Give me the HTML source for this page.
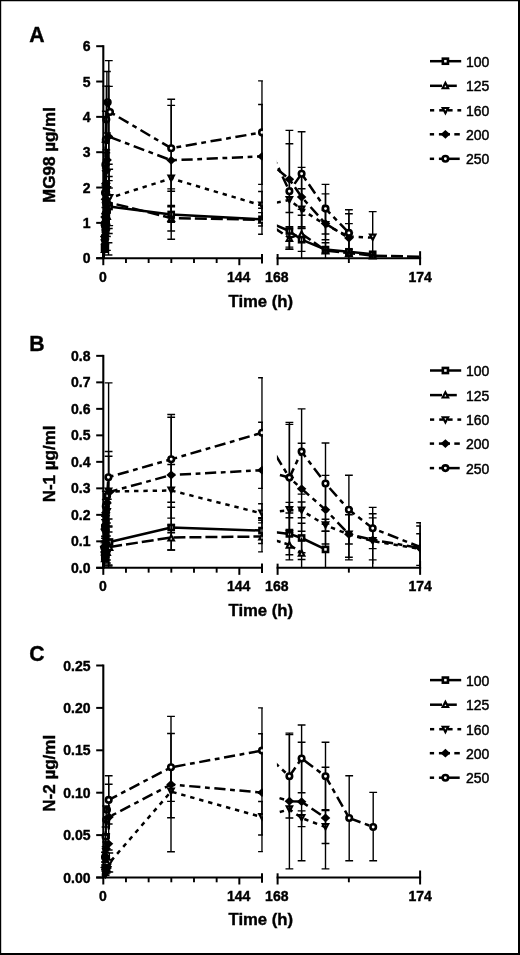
<!DOCTYPE html>
<html lang="en"><head><meta charset="utf-8"><title>Figure: plasma concentration versus time</title>
<style>html,body{margin:0;padding:0;background:#fff}body{width:520px;height:955px;overflow:hidden}svg{display:block}text{font-family:'Liberation Sans', sans-serif;fill:#000}</style></head><body>
<svg width="520" height="955" viewBox="0 0 520 955">
<rect x="0" y="0" width="520" height="955" fill="#fff"/>
<defs>
<clipPath id="clip0"><rect x="90" y="20" width="172.9" height="300"/><rect x="276.9" y="20" width="144.1" height="300"/></clipPath>
<clipPath id="clip1"><rect x="90" y="329.5" width="172.9" height="300"/><rect x="276.9" y="329.5" width="144.1" height="300"/></clipPath>
<clipPath id="clip2"><rect x="90" y="639.2" width="172.9" height="300"/><rect x="276.9" y="639.2" width="144.1" height="300"/></clipPath>
</defs>
<g id="panel-A">
<text x="29.3" y="41.6" font-size="21.2" font-weight="bold" text-anchor="start" stroke="#000" stroke-width="0.4">A</text>
<text transform="translate(55 155) rotate(-90)" font-size="17" font-weight="bold" text-anchor="middle" stroke="#000" stroke-width="0.45">MG98 µg/ml</text>
<g clip-path="url(#clip0)">
<line x1="105.4" y1="222.34" x2="105.4" y2="236.22" stroke="#000" stroke-width="1.4"/>
<line x1="101.5" y1="222.34" x2="109.3" y2="222.34" stroke="#000" stroke-width="1.4"/>
<line x1="101.5" y1="236.22" x2="109.3" y2="236.22" stroke="#000" stroke-width="1.4"/>
<line x1="105.8" y1="212.78" x2="105.8" y2="230.36" stroke="#000" stroke-width="1.4"/>
<line x1="101.9" y1="212.78" x2="109.7" y2="212.78" stroke="#000" stroke-width="1.4"/>
<line x1="101.9" y1="230.36" x2="109.7" y2="230.36" stroke="#000" stroke-width="1.4"/>
<line x1="106.3" y1="205.01" x2="106.3" y2="225.6" stroke="#000" stroke-width="1.4"/>
<line x1="102.4" y1="205.01" x2="110.2" y2="205.01" stroke="#000" stroke-width="1.4"/>
<line x1="102.4" y1="225.6" x2="110.2" y2="225.6" stroke="#000" stroke-width="1.4"/>
<line x1="108.8" y1="180.6" x2="108.8" y2="233.5" stroke="#000" stroke-width="1.4"/>
<line x1="104.9" y1="180.6" x2="112.7" y2="180.6" stroke="#000" stroke-width="1.4"/>
<line x1="104.9" y1="233.5" x2="112.7" y2="233.5" stroke="#000" stroke-width="1.4"/>
<line x1="106.9" y1="236.5" x2="106.9" y2="250.4" stroke="#000" stroke-width="1.4"/>
<line x1="103" y1="236.5" x2="110.8" y2="236.5" stroke="#000" stroke-width="1.4"/>
<line x1="103" y1="250.4" x2="110.8" y2="250.4" stroke="#000" stroke-width="1.4"/>
<line x1="171.2" y1="206.7" x2="171.2" y2="222.3" stroke="#000" stroke-width="1.4"/>
<line x1="167.3" y1="206.7" x2="175.1" y2="206.7" stroke="#000" stroke-width="1.4"/>
<line x1="167.3" y1="222.3" x2="175.1" y2="222.3" stroke="#000" stroke-width="1.4"/>
<line x1="262" y1="212.6" x2="262" y2="226" stroke="#000" stroke-width="1.4"/>
<line x1="258.1" y1="212.6" x2="265.9" y2="212.6" stroke="#000" stroke-width="1.4"/>
<line x1="258.1" y1="226" x2="265.9" y2="226" stroke="#000" stroke-width="1.4"/>
<line x1="289.4" y1="228.9" x2="289.4" y2="247.1" stroke="#000" stroke-width="1.4"/>
<line x1="285.5" y1="228.9" x2="293.3" y2="228.9" stroke="#000" stroke-width="1.4"/>
<line x1="285.5" y1="247.1" x2="293.3" y2="247.1" stroke="#000" stroke-width="1.4"/>
<line x1="301.6" y1="228" x2="301.6" y2="251.4" stroke="#000" stroke-width="1.4"/>
<line x1="297.7" y1="228" x2="305.5" y2="228" stroke="#000" stroke-width="1.4"/>
<line x1="297.7" y1="251.4" x2="305.5" y2="251.4" stroke="#000" stroke-width="1.4"/>
<line x1="325.5" y1="242.7" x2="325.5" y2="258" stroke="#000" stroke-width="1.4"/>
<line x1="321.6" y1="242.7" x2="329.4" y2="242.7" stroke="#000" stroke-width="1.4"/>
<path d="M103.3 258.4L104.6 247.6L105 237.96L105.4 229.28L105.8 221.57L106.3 215.3L107.1 210L109 206.5L171.2 214.5L262 219.3L289.4 231L301.6 239.7L325.5 249.6L348.9 251.8L372.7 254.3" fill="none" stroke="#000" stroke-width="2.5" stroke-linejoin="round"/>
<rect x="102.05" y="245.05" width="5.1" height="5.1" fill="none" stroke="#000" stroke-width="2.6"/>
<rect x="102.45" y="235.41" width="5.1" height="5.1" fill="none" stroke="#000" stroke-width="2.6"/>
<rect x="102.85" y="226.73" width="5.1" height="5.1" fill="none" stroke="#000" stroke-width="2.6"/>
<rect x="103.25" y="219.02" width="5.1" height="5.1" fill="none" stroke="#000" stroke-width="2.6"/>
<rect x="103.75" y="212.75" width="5.1" height="5.1" fill="none" stroke="#000" stroke-width="2.6"/>
<rect x="104.55" y="207.45" width="5.1" height="5.1" fill="none" stroke="#000" stroke-width="2.6"/>
<rect x="106.45" y="203.95" width="5.1" height="5.1" fill="#fff" stroke="#000" stroke-width="2.6"/>
<rect x="168.65" y="211.95" width="5.1" height="5.1" fill="#fff" stroke="#000" stroke-width="2.6"/>
<rect x="259.45" y="216.75" width="5.1" height="5.1" fill="#fff" stroke="#000" stroke-width="2.6"/>
<rect x="286.85" y="228.45" width="5.1" height="5.1" fill="#fff" stroke="#000" stroke-width="2.6"/>
<rect x="299.05" y="237.15" width="5.1" height="5.1" fill="#fff" stroke="#000" stroke-width="2.6"/>
<rect x="322.95" y="247.05" width="5.1" height="5.1" fill="#fff" stroke="#000" stroke-width="2.6"/>
<rect x="346.35" y="249.25" width="5.1" height="5.1" fill="#fff" stroke="#000" stroke-width="2.6"/>
<rect x="370.15" y="251.75" width="5.1" height="5.1" fill="#fff" stroke="#000" stroke-width="2.6"/>
<line x1="105.4" y1="226.8" x2="105.4" y2="238.96" stroke="#000" stroke-width="1.4"/>
<line x1="101.5" y1="226.8" x2="109.3" y2="226.8" stroke="#000" stroke-width="1.4"/>
<line x1="101.5" y1="238.96" x2="109.3" y2="238.96" stroke="#000" stroke-width="1.4"/>
<line x1="105.8" y1="218.43" x2="105.8" y2="233.83" stroke="#000" stroke-width="1.4"/>
<line x1="101.9" y1="218.43" x2="109.7" y2="218.43" stroke="#000" stroke-width="1.4"/>
<line x1="101.9" y1="233.83" x2="109.7" y2="233.83" stroke="#000" stroke-width="1.4"/>
<line x1="106.3" y1="211.63" x2="106.3" y2="229.66" stroke="#000" stroke-width="1.4"/>
<line x1="102.4" y1="211.63" x2="110.2" y2="211.63" stroke="#000" stroke-width="1.4"/>
<line x1="102.4" y1="229.66" x2="110.2" y2="229.66" stroke="#000" stroke-width="1.4"/>
<line x1="108.8" y1="176.5" x2="108.8" y2="228.5" stroke="#000" stroke-width="1.4"/>
<line x1="104.9" y1="176.5" x2="112.7" y2="176.5" stroke="#000" stroke-width="1.4"/>
<line x1="104.9" y1="228.5" x2="112.7" y2="228.5" stroke="#000" stroke-width="1.4"/>
<line x1="108.5" y1="242.7" x2="108.5" y2="255" stroke="#000" stroke-width="1.4"/>
<line x1="104.6" y1="242.7" x2="112.4" y2="242.7" stroke="#000" stroke-width="1.4"/>
<line x1="104.6" y1="255" x2="112.4" y2="255" stroke="#000" stroke-width="1.4"/>
<line x1="171.2" y1="205.5" x2="171.2" y2="231" stroke="#000" stroke-width="1.4"/>
<line x1="167.3" y1="205.5" x2="175.1" y2="205.5" stroke="#000" stroke-width="1.4"/>
<line x1="167.3" y1="231" x2="175.1" y2="231" stroke="#000" stroke-width="1.4"/>
<line x1="262" y1="205.3" x2="262" y2="234.3" stroke="#000" stroke-width="1.4"/>
<line x1="258.1" y1="205.3" x2="265.9" y2="205.3" stroke="#000" stroke-width="1.4"/>
<line x1="258.1" y1="234.3" x2="265.9" y2="234.3" stroke="#000" stroke-width="1.4"/>
<line x1="289.4" y1="226.7" x2="289.4" y2="249.3" stroke="#000" stroke-width="1.4"/>
<line x1="285.5" y1="226.7" x2="293.3" y2="226.7" stroke="#000" stroke-width="1.4"/>
<line x1="285.5" y1="249.3" x2="293.3" y2="249.3" stroke="#000" stroke-width="1.4"/>
<line x1="301.6" y1="209.4" x2="301.6" y2="258" stroke="#000" stroke-width="1.4"/>
<line x1="297.7" y1="209.4" x2="305.5" y2="209.4" stroke="#000" stroke-width="1.4"/>
<path d="M103.3 258.4L104.6 248.92L105 240.48L105.4 232.88L105.8 226.13L106.3 220.64L107.1 216L109 202.5L171.2 218L262 219.8L289.4 238L301.6 233.7L325.5 250.5L348.9 253L372.7 255.6L420.1 256.7" fill="none" stroke="#000" stroke-width="2.5" stroke-linejoin="round" stroke-dasharray="12 4"/>
<path d="M104.6 244.32L109.1 252.92L100.1 252.92Z" fill="#000"/>
<path d="M105 235.88L109.5 244.48L100.5 244.48Z" fill="#000"/>
<path d="M105.4 228.28L109.9 236.88L100.9 236.88Z" fill="#000"/>
<path d="M105.8 221.53L110.3 230.13L101.3 230.13Z" fill="#000"/>
<path d="M106.3 216.04L110.8 224.64L101.8 224.64Z" fill="#000"/>
<path d="M107.1 211.4L111.6 220L102.6 220Z" fill="#000"/>
<path d="M109 197.9L113.5 206.5L104.5 206.5Z" fill="#000"/><path d="M109 202.54L109.99 204.43L108.01 204.43Z" fill="#fff"/>
<path d="M171.2 213.4L175.7 222L166.7 222Z" fill="#000"/><path d="M171.2 218.04L172.19 219.93L170.21 219.93Z" fill="#fff"/>
<path d="M262 215.2L266.5 223.8L257.5 223.8Z" fill="#000"/><path d="M262 219.84L262.99 221.73L261.01 221.73Z" fill="#fff"/>
<path d="M289.4 233.4L293.9 242L284.9 242Z" fill="#000"/><path d="M289.4 238.04L290.39 239.93L288.41 239.93Z" fill="#fff"/>
<path d="M301.6 229.1L306.1 237.7L297.1 237.7Z" fill="#000"/><path d="M301.6 233.74L302.59 235.63L300.61 235.63Z" fill="#fff"/>
<path d="M325.5 245.9L330 254.5L321 254.5Z" fill="#000"/><path d="M325.5 250.54L326.49 252.43L324.51 252.43Z" fill="#fff"/>
<path d="M348.9 248.4L353.4 257L344.4 257Z" fill="#000"/><path d="M348.9 253.04L349.89 254.93L347.91 254.93Z" fill="#fff"/>
<path d="M372.7 251L377.2 259.6L368.2 259.6Z" fill="#000"/><path d="M372.7 255.64L373.69 257.53L371.71 257.53Z" fill="#fff"/>
<line x1="105.4" y1="207.46" x2="105.4" y2="227.1" stroke="#000" stroke-width="1.4"/>
<line x1="101.5" y1="207.46" x2="109.3" y2="207.46" stroke="#000" stroke-width="1.4"/>
<line x1="101.5" y1="227.1" x2="109.3" y2="227.1" stroke="#000" stroke-width="1.4"/>
<line x1="105.8" y1="193.93" x2="105.8" y2="218.81" stroke="#000" stroke-width="1.4"/>
<line x1="101.9" y1="193.93" x2="109.7" y2="193.93" stroke="#000" stroke-width="1.4"/>
<line x1="101.9" y1="218.81" x2="109.7" y2="218.81" stroke="#000" stroke-width="1.4"/>
<line x1="106.3" y1="182.93" x2="106.3" y2="212.07" stroke="#000" stroke-width="1.4"/>
<line x1="102.4" y1="182.93" x2="110.2" y2="182.93" stroke="#000" stroke-width="1.4"/>
<line x1="102.4" y1="212.07" x2="110.2" y2="212.07" stroke="#000" stroke-width="1.4"/>
<line x1="109.2" y1="169.2" x2="109.2" y2="225.6" stroke="#000" stroke-width="1.4"/>
<line x1="105.3" y1="169.2" x2="113.1" y2="169.2" stroke="#000" stroke-width="1.4"/>
<line x1="105.3" y1="225.6" x2="113.1" y2="225.6" stroke="#000" stroke-width="1.4"/>
<line x1="171.2" y1="178.4" x2="171.2" y2="239.3" stroke="#000" stroke-width="1.4"/>
<line x1="167.3" y1="188.9" x2="175.1" y2="188.9" stroke="#000" stroke-width="1.4"/>
<line x1="167.3" y1="239.3" x2="175.1" y2="239.3" stroke="#000" stroke-width="1.4"/>
<line x1="262" y1="191.5" x2="262" y2="219.5" stroke="#000" stroke-width="1.4"/>
<line x1="258.1" y1="191.5" x2="265.9" y2="191.5" stroke="#000" stroke-width="1.4"/>
<line x1="258.1" y1="219.5" x2="265.9" y2="219.5" stroke="#000" stroke-width="1.4"/>
<line x1="301.6" y1="188.8" x2="301.6" y2="228.5" stroke="#000" stroke-width="1.4"/>
<line x1="297.7" y1="188.8" x2="305.5" y2="188.8" stroke="#000" stroke-width="1.4"/>
<line x1="297.7" y1="228.5" x2="305.5" y2="228.5" stroke="#000" stroke-width="1.4"/>
<line x1="325.5" y1="210.2" x2="325.5" y2="239.8" stroke="#000" stroke-width="1.4"/>
<line x1="321.6" y1="210.2" x2="329.4" y2="210.2" stroke="#000" stroke-width="1.4"/>
<line x1="321.6" y1="239.8" x2="329.4" y2="239.8" stroke="#000" stroke-width="1.4"/>
<line x1="348.9" y1="223.6" x2="348.9" y2="249.4" stroke="#000" stroke-width="1.4"/>
<line x1="345" y1="223.6" x2="352.8" y2="223.6" stroke="#000" stroke-width="1.4"/>
<line x1="345" y1="249.4" x2="352.8" y2="249.4" stroke="#000" stroke-width="1.4"/>
<line x1="372.7" y1="211.6" x2="372.7" y2="258" stroke="#000" stroke-width="1.4"/>
<line x1="368.8" y1="211.6" x2="376.6" y2="211.6" stroke="#000" stroke-width="1.4"/>
<path d="M103.3 258.4L104.6 243.2L105 229.56L105.4 217.28L105.8 206.37L106.3 197.5L107.1 190L109.5 198L171.2 178.4L262 205.5L289.4 200L301.6 209.4L325.5 225L348.9 236.5L372.7 237.6" fill="none" stroke="#000" stroke-width="2.5" stroke-linejoin="round" stroke-dasharray="4.4 4.9"/>
<path d="M104.6 247.8L109.1 239.2L100.1 239.2Z" fill="#000"/>
<path d="M105 234.16L109.5 225.56L100.5 225.56Z" fill="#000"/>
<path d="M105.4 221.88L109.9 213.28L100.9 213.28Z" fill="#000"/>
<path d="M105.8 210.97L110.3 202.37L101.3 202.37Z" fill="#000"/>
<path d="M106.3 202.1L110.8 193.5L101.8 193.5Z" fill="#000"/>
<path d="M107.1 194.6L111.6 186L102.6 186Z" fill="#000"/>
<path d="M109.5 202.6L114 194L105 194Z" fill="#000"/><path d="M109.5 197.96L110.49 196.07L108.51 196.07Z" fill="#fff"/>
<path d="M171.2 183L175.7 174.4L166.7 174.4Z" fill="#000"/><path d="M171.2 178.36L172.19 176.47L170.21 176.47Z" fill="#fff"/>
<path d="M262 210.1L266.5 201.5L257.5 201.5Z" fill="#000"/><path d="M262 205.46L262.99 203.57L261.01 203.57Z" fill="#fff"/>
<path d="M289.4 204.6L293.9 196L284.9 196Z" fill="#000"/><path d="M289.4 199.96L290.39 198.07L288.41 198.07Z" fill="#fff"/>
<path d="M301.6 214L306.1 205.4L297.1 205.4Z" fill="#000"/><path d="M301.6 209.36L302.59 207.47L300.61 207.47Z" fill="#fff"/>
<path d="M325.5 229.6L330 221L321 221Z" fill="#000"/><path d="M325.5 224.96L326.49 223.07L324.51 223.07Z" fill="#fff"/>
<path d="M348.9 241.1L353.4 232.5L344.4 232.5Z" fill="#000"/><path d="M348.9 236.46L349.89 234.57L347.91 234.57Z" fill="#fff"/>
<path d="M372.7 242.2L377.2 233.6L368.2 233.6Z" fill="#000"/><path d="M372.7 237.56L373.69 235.67L371.71 235.67Z" fill="#fff"/>
<line x1="105.4" y1="185.14" x2="105.4" y2="213.42" stroke="#000" stroke-width="1.4"/>
<line x1="101.5" y1="185.14" x2="109.3" y2="185.14" stroke="#000" stroke-width="1.4"/>
<line x1="101.5" y1="213.42" x2="109.3" y2="213.42" stroke="#000" stroke-width="1.4"/>
<line x1="105.8" y1="165.66" x2="105.8" y2="201.48" stroke="#000" stroke-width="1.4"/>
<line x1="101.9" y1="165.66" x2="109.7" y2="165.66" stroke="#000" stroke-width="1.4"/>
<line x1="101.9" y1="201.48" x2="109.7" y2="201.48" stroke="#000" stroke-width="1.4"/>
<line x1="106.3" y1="149.83" x2="106.3" y2="191.78" stroke="#000" stroke-width="1.4"/>
<line x1="102.4" y1="149.83" x2="110.2" y2="149.83" stroke="#000" stroke-width="1.4"/>
<line x1="102.4" y1="191.78" x2="110.2" y2="191.78" stroke="#000" stroke-width="1.4"/>
<line x1="108.9" y1="86.4" x2="108.9" y2="188" stroke="#000" stroke-width="1.4"/>
<line x1="105" y1="86.4" x2="112.8" y2="86.4" stroke="#000" stroke-width="1.4"/>
<line x1="105" y1="188" x2="112.8" y2="188" stroke="#000" stroke-width="1.4"/>
<line x1="171.2" y1="99.2" x2="171.2" y2="221.4" stroke="#000" stroke-width="1.4"/>
<line x1="167.3" y1="99.2" x2="175.1" y2="99.2" stroke="#000" stroke-width="1.4"/>
<line x1="167.3" y1="221.4" x2="175.1" y2="221.4" stroke="#000" stroke-width="1.4"/>
<line x1="262" y1="104.5" x2="262" y2="208.3" stroke="#000" stroke-width="1.4"/>
<line x1="258.1" y1="104.5" x2="265.9" y2="104.5" stroke="#000" stroke-width="1.4"/>
<line x1="258.1" y1="208.3" x2="265.9" y2="208.3" stroke="#000" stroke-width="1.4"/>
<line x1="289.4" y1="143.8" x2="289.4" y2="212.5" stroke="#000" stroke-width="1.4"/>
<line x1="285.5" y1="143.8" x2="293.3" y2="143.8" stroke="#000" stroke-width="1.4"/>
<line x1="285.5" y1="212.5" x2="293.3" y2="212.5" stroke="#000" stroke-width="1.4"/>
<line x1="301.6" y1="167.4" x2="301.6" y2="226.6" stroke="#000" stroke-width="1.4"/>
<line x1="297.7" y1="167.4" x2="305.5" y2="167.4" stroke="#000" stroke-width="1.4"/>
<line x1="297.7" y1="226.6" x2="305.5" y2="226.6" stroke="#000" stroke-width="1.4"/>
<line x1="325.5" y1="193.9" x2="325.5" y2="253" stroke="#000" stroke-width="1.4"/>
<line x1="321.6" y1="193.9" x2="329.4" y2="193.9" stroke="#000" stroke-width="1.4"/>
<line x1="321.6" y1="253" x2="329.4" y2="253" stroke="#000" stroke-width="1.4"/>
<line x1="348.9" y1="213.8" x2="348.9" y2="258" stroke="#000" stroke-width="1.4"/>
<line x1="345" y1="213.8" x2="352.8" y2="213.8" stroke="#000" stroke-width="1.4"/>
<path d="M103.3 258.4L104.6 236.6L105 216.96L105.4 199.28L105.8 183.57L106.3 170.8L107.1 160L108.5 136.5L171.2 160.3L262 156.4L289.4 179.3L301.6 197L325.5 223.6L348.9 238" fill="none" stroke="#000" stroke-width="2.5" stroke-linejoin="round" stroke-dasharray="11.2 4.6 4.8 4.6" stroke-dashoffset="2.2"/>
<path d="M104.6 232.2L109.4 236.6L104.6 241L99.8 236.6Z" fill="#000"/>
<path d="M105 212.56L109.8 216.96L105 221.36L100.2 216.96Z" fill="#000"/>
<path d="M105.4 194.88L110.2 199.28L105.4 203.68L100.6 199.28Z" fill="#000"/>
<path d="M105.8 179.17L110.6 183.57L105.8 187.97L101 183.57Z" fill="#000"/>
<path d="M106.3 166.4L111.1 170.8L106.3 175.2L101.5 170.8Z" fill="#000"/>
<path d="M107.1 155.6L111.9 160L107.1 164.4L102.3 160Z" fill="#000"/>
<path d="M108.5 132.1L113.3 136.5L108.5 140.9L103.7 136.5Z" fill="#000"/>
<path d="M171.2 155.9L176 160.3L171.2 164.7L166.4 160.3Z" fill="#000"/>
<path d="M262 152L266.8 156.4L262 160.8L257.2 156.4Z" fill="#000"/>
<path d="M289.4 174.9L294.2 179.3L289.4 183.7L284.6 179.3Z" fill="#000"/>
<path d="M301.6 192.6L306.4 197L301.6 201.4L296.8 197Z" fill="#000"/>
<path d="M325.5 219.2L330.3 223.6L325.5 228L320.7 223.6Z" fill="#000"/>
<path d="M348.9 233.6L353.7 238L348.9 242.4L344.1 238Z" fill="#000"/>
<line x1="105.4" y1="142.21" x2="105.4" y2="187.11" stroke="#000" stroke-width="1.4"/>
<line x1="101.5" y1="142.21" x2="109.3" y2="142.21" stroke="#000" stroke-width="1.4"/>
<line x1="101.5" y1="187.11" x2="109.3" y2="187.11" stroke="#000" stroke-width="1.4"/>
<line x1="105.8" y1="111.28" x2="105.8" y2="168.15" stroke="#000" stroke-width="1.4"/>
<line x1="101.9" y1="111.28" x2="109.7" y2="111.28" stroke="#000" stroke-width="1.4"/>
<line x1="101.9" y1="168.15" x2="109.7" y2="168.15" stroke="#000" stroke-width="1.4"/>
<line x1="106.3" y1="86.15" x2="106.3" y2="152.75" stroke="#000" stroke-width="1.4"/>
<line x1="102.4" y1="86.15" x2="110.2" y2="86.15" stroke="#000" stroke-width="1.4"/>
<line x1="102.4" y1="152.75" x2="110.2" y2="152.75" stroke="#000" stroke-width="1.4"/>
<line x1="108.8" y1="60.6" x2="108.8" y2="164.2" stroke="#000" stroke-width="1.4"/>
<line x1="104.9" y1="60.6" x2="112.7" y2="60.6" stroke="#000" stroke-width="1.4"/>
<line x1="104.9" y1="164.2" x2="112.7" y2="164.2" stroke="#000" stroke-width="1.4"/>
<line x1="106.9" y1="71.5" x2="106.9" y2="133" stroke="#000" stroke-width="1.4"/>
<line x1="103" y1="71.5" x2="110.8" y2="71.5" stroke="#000" stroke-width="1.4"/>
<line x1="103" y1="133" x2="110.8" y2="133" stroke="#000" stroke-width="1.4"/>
<line x1="171.2" y1="105.4" x2="171.2" y2="191.3" stroke="#000" stroke-width="1.4"/>
<line x1="167.3" y1="105.4" x2="175.1" y2="105.4" stroke="#000" stroke-width="1.4"/>
<line x1="167.3" y1="191.3" x2="175.1" y2="191.3" stroke="#000" stroke-width="1.4"/>
<line x1="262" y1="80.9" x2="262" y2="184.4" stroke="#000" stroke-width="1.4"/>
<line x1="258.1" y1="80.9" x2="265.9" y2="80.9" stroke="#000" stroke-width="1.4"/>
<line x1="258.1" y1="184.4" x2="265.9" y2="184.4" stroke="#000" stroke-width="1.4"/>
<line x1="289.4" y1="130.4" x2="289.4" y2="249.3" stroke="#000" stroke-width="1.4"/>
<line x1="285.5" y1="130.4" x2="293.3" y2="130.4" stroke="#000" stroke-width="1.4"/>
<line x1="285.5" y1="249.3" x2="293.3" y2="249.3" stroke="#000" stroke-width="1.4"/>
<line x1="301.6" y1="131.7" x2="301.6" y2="215.3" stroke="#000" stroke-width="1.4"/>
<line x1="297.7" y1="131.7" x2="305.5" y2="131.7" stroke="#000" stroke-width="1.4"/>
<line x1="297.7" y1="215.3" x2="305.5" y2="215.3" stroke="#000" stroke-width="1.4"/>
<line x1="325.5" y1="184.4" x2="325.5" y2="234" stroke="#000" stroke-width="1.4"/>
<line x1="321.6" y1="184.4" x2="329.4" y2="184.4" stroke="#000" stroke-width="1.4"/>
<line x1="321.6" y1="234" x2="329.4" y2="234" stroke="#000" stroke-width="1.4"/>
<line x1="348.9" y1="209.8" x2="348.9" y2="256" stroke="#000" stroke-width="1.4"/>
<line x1="345" y1="209.8" x2="352.8" y2="209.8" stroke="#000" stroke-width="1.4"/>
<line x1="345" y1="256" x2="352.8" y2="256" stroke="#000" stroke-width="1.4"/>
<path d="M103.3 258.4L104.6 223.9L105 192.72L105.4 164.66L105.8 139.72L106.3 119.45L107.7 102.3L110 112L171.2 148.2L262 132.4L289.4 191.2L301.6 173.7L325.5 208.6L348.9 232.9" fill="none" stroke="#000" stroke-width="2.5" stroke-linejoin="round" stroke-dasharray="11.2 4.6 4.8 4.6"/>
<circle cx="104.6" cy="223.9" r="2.75" fill="none" stroke="#000" stroke-width="2.6"/>
<circle cx="105" cy="192.72" r="2.75" fill="none" stroke="#000" stroke-width="2.6"/>
<circle cx="105.4" cy="164.66" r="2.75" fill="none" stroke="#000" stroke-width="2.6"/>
<circle cx="105.8" cy="139.72" r="2.75" fill="none" stroke="#000" stroke-width="2.6"/>
<circle cx="106.3" cy="119.45" r="2.75" fill="none" stroke="#000" stroke-width="2.6"/>
<circle cx="107.7" cy="102.3" r="2.75" fill="none" stroke="#000" stroke-width="2.6"/>
<circle cx="110" cy="112" r="2.75" fill="#fff" stroke="#000" stroke-width="2.6"/>
<circle cx="171.2" cy="148.2" r="2.75" fill="#fff" stroke="#000" stroke-width="2.6"/>
<circle cx="262" cy="132.4" r="2.75" fill="#fff" stroke="#000" stroke-width="2.6"/>
<circle cx="289.4" cy="191.2" r="2.75" fill="#fff" stroke="#000" stroke-width="2.6"/>
<circle cx="301.6" cy="173.7" r="2.75" fill="#fff" stroke="#000" stroke-width="2.6"/>
<circle cx="325.5" cy="208.6" r="2.75" fill="#fff" stroke="#000" stroke-width="2.6"/>
<circle cx="348.9" cy="232.9" r="2.75" fill="#fff" stroke="#000" stroke-width="2.6"/>
</g>
<line x1="103.3" y1="45.2" x2="103.3" y2="259.2" stroke="#000" stroke-width="2.1"/>
<line x1="96.2" y1="258.2" x2="103.3" y2="258.2" stroke="#000" stroke-width="2"/>
<text x="90.5" y="263.2" font-size="14" font-weight="bold" text-anchor="end" stroke="#000" stroke-width="0.4">0</text>
<line x1="96.2" y1="222.87" x2="103.3" y2="222.87" stroke="#000" stroke-width="2"/>
<text x="90.5" y="227.87" font-size="14" font-weight="bold" text-anchor="end" stroke="#000" stroke-width="0.4">1</text>
<line x1="96.2" y1="187.53" x2="103.3" y2="187.53" stroke="#000" stroke-width="2"/>
<text x="90.5" y="192.53" font-size="14" font-weight="bold" text-anchor="end" stroke="#000" stroke-width="0.4">2</text>
<line x1="96.2" y1="152.2" x2="103.3" y2="152.2" stroke="#000" stroke-width="2"/>
<text x="90.5" y="157.2" font-size="14" font-weight="bold" text-anchor="end" stroke="#000" stroke-width="0.4">3</text>
<line x1="96.2" y1="116.87" x2="103.3" y2="116.87" stroke="#000" stroke-width="2"/>
<text x="90.5" y="121.87" font-size="14" font-weight="bold" text-anchor="end" stroke="#000" stroke-width="0.4">4</text>
<line x1="96.2" y1="81.53" x2="103.3" y2="81.53" stroke="#000" stroke-width="2"/>
<text x="90.5" y="86.53" font-size="14" font-weight="bold" text-anchor="end" stroke="#000" stroke-width="0.4">5</text>
<line x1="96.2" y1="46.2" x2="103.3" y2="46.2" stroke="#000" stroke-width="2"/>
<text x="90.5" y="51.2" font-size="14" font-weight="bold" text-anchor="end" stroke="#000" stroke-width="0.4">6</text>
<line x1="96.2" y1="258.2" x2="262.9" y2="258.2" stroke="#000" stroke-width="2"/>
<line x1="103.3" y1="258.2" x2="103.3" y2="265.2" stroke="#000" stroke-width="2"/>
<line x1="125.97" y1="258.2" x2="125.97" y2="263" stroke="#000" stroke-width="1.9"/>
<line x1="148.64" y1="258.2" x2="148.64" y2="263" stroke="#000" stroke-width="1.9"/>
<line x1="171.31" y1="258.2" x2="171.31" y2="263" stroke="#000" stroke-width="1.9"/>
<line x1="193.99" y1="258.2" x2="193.99" y2="263" stroke="#000" stroke-width="1.9"/>
<line x1="216.66" y1="258.2" x2="216.66" y2="263" stroke="#000" stroke-width="1.9"/>
<line x1="239.33" y1="258.2" x2="239.33" y2="265.2" stroke="#000" stroke-width="2"/>
<line x1="262" y1="253.9" x2="262" y2="263.4" stroke="#000" stroke-width="2"/>
<line x1="276.6" y1="258.2" x2="421.1" y2="258.2" stroke="#000" stroke-width="2"/>
<line x1="277.6" y1="254" x2="277.6" y2="265.2" stroke="#000" stroke-width="2"/>
<line x1="348.85" y1="258.2" x2="348.85" y2="263" stroke="#000" stroke-width="1.9"/>
<line x1="420.1" y1="251.2" x2="420.1" y2="265.2" stroke="#000" stroke-width="2"/>
<text x="102.9" y="282" font-size="14" font-weight="bold" text-anchor="middle" stroke="#000" stroke-width="0.4">0</text>
<text x="238.7" y="282" font-size="14" font-weight="bold" text-anchor="middle" stroke="#000" stroke-width="0.4">144</text>
<text x="276.8" y="282" font-size="14" font-weight="bold" text-anchor="middle" stroke="#000" stroke-width="0.4">168</text>
<text x="420.2" y="282" font-size="14" font-weight="bold" text-anchor="middle" stroke="#000" stroke-width="0.4">174</text>
<text x="260.8" y="306.9" font-size="16.7" font-weight="bold" text-anchor="middle" stroke="#000" stroke-width="0.4">Time (h)</text>
<line x1="430" y1="61.2" x2="461.2" y2="61.2" stroke="#000" stroke-width="2.5"/>
<rect x="442.85" y="58.65" width="5.1" height="5.1" fill="#fff" stroke="#000" stroke-width="2.6"/>
<text x="466" y="66.6" font-size="14" font-weight="normal" text-anchor="start" stroke="#000" stroke-width="0.45">100</text>
<line x1="430" y1="85.8" x2="442" y2="85.8" stroke="#000" stroke-width="2.5"/>
<line x1="446" y1="85.8" x2="456.8" y2="85.8" stroke="#000" stroke-width="2.5"/>
<path d="M445.4 80.6L449.9 89.2L440.9 89.2Z" fill="#000"/><path d="M445.4 85.24L446.39 87.13L444.41 87.13Z" fill="#fff"/>
<text x="466" y="91.2" font-size="14" font-weight="normal" text-anchor="start" stroke="#000" stroke-width="0.45">125</text>
<line x1="430" y1="110.3" x2="434.2" y2="110.3" stroke="#000" stroke-width="2.5"/>
<line x1="439.2" y1="110.3" x2="443.5" y2="110.3" stroke="#000" stroke-width="2.5"/>
<line x1="448" y1="110.3" x2="452.6" y2="110.3" stroke="#000" stroke-width="2.5"/>
<line x1="457.4" y1="110.3" x2="461.2" y2="110.3" stroke="#000" stroke-width="2.5"/>
<path d="M445.4 115.5L449.9 106.9L440.9 106.9Z" fill="#000"/><path d="M445.4 110.86L446.39 108.97L444.41 108.97Z" fill="#fff"/>
<text x="466" y="115.7" font-size="14" font-weight="normal" text-anchor="start" stroke="#000" stroke-width="0.45">160</text>
<line x1="429.8" y1="134.3" x2="434.1" y2="134.3" stroke="#000" stroke-width="2.5"/>
<line x1="438.9" y1="134.3" x2="450" y2="134.3" stroke="#000" stroke-width="2.5"/>
<line x1="454.3" y1="134.3" x2="459.8" y2="134.3" stroke="#000" stroke-width="2.5"/>
<path d="M445.4 129.9L450.2 134.3L445.4 138.7L440.6 134.3Z" fill="#000"/>
<text x="466" y="139.7" font-size="14" font-weight="normal" text-anchor="start" stroke="#000" stroke-width="0.45">200</text>
<line x1="429.8" y1="158.8" x2="434.1" y2="158.8" stroke="#000" stroke-width="2.5"/>
<line x1="438.9" y1="158.8" x2="459.7" y2="158.8" stroke="#000" stroke-width="2.5"/>
<circle cx="445.4" cy="158.8" r="2.75" fill="#fff" stroke="#000" stroke-width="2.6"/>
<text x="466" y="164.2" font-size="14" font-weight="normal" text-anchor="start" stroke="#000" stroke-width="0.45">250</text>
</g>
<g id="panel-B">
<text x="29.3" y="351.1" font-size="21.2" font-weight="bold" text-anchor="start" stroke="#000" stroke-width="0.4">B</text>
<text transform="translate(55 463.9) rotate(-90)" font-size="17" font-weight="bold" text-anchor="middle" stroke="#000" stroke-width="0.45">N-1 µg/ml</text>
<g clip-path="url(#clip1)">
<line x1="105.4" y1="548.16" x2="105.4" y2="555.78" stroke="#000" stroke-width="1.4"/>
<line x1="101.5" y1="548.16" x2="109.3" y2="548.16" stroke="#000" stroke-width="1.4"/>
<line x1="101.5" y1="555.78" x2="109.3" y2="555.78" stroke="#000" stroke-width="1.4"/>
<line x1="106" y1="544.47" x2="106" y2="553.52" stroke="#000" stroke-width="1.4"/>
<line x1="102.1" y1="544.47" x2="109.9" y2="544.47" stroke="#000" stroke-width="1.4"/>
<line x1="102.1" y1="553.52" x2="109.9" y2="553.52" stroke="#000" stroke-width="1.4"/>
<line x1="106.6" y1="540.77" x2="106.6" y2="551.26" stroke="#000" stroke-width="1.4"/>
<line x1="102.7" y1="540.77" x2="110.5" y2="540.77" stroke="#000" stroke-width="1.4"/>
<line x1="102.7" y1="551.26" x2="110.5" y2="551.26" stroke="#000" stroke-width="1.4"/>
<line x1="108.6" y1="519" x2="108.6" y2="565" stroke="#000" stroke-width="1.4"/>
<line x1="104.7" y1="519" x2="112.5" y2="519" stroke="#000" stroke-width="1.4"/>
<line x1="104.7" y1="565" x2="112.5" y2="565" stroke="#000" stroke-width="1.4"/>
<line x1="106.9" y1="536" x2="106.9" y2="560" stroke="#000" stroke-width="1.4"/>
<line x1="103" y1="536" x2="110.8" y2="536" stroke="#000" stroke-width="1.4"/>
<line x1="103" y1="560" x2="110.8" y2="560" stroke="#000" stroke-width="1.4"/>
<line x1="171.2" y1="507.3" x2="171.2" y2="550" stroke="#000" stroke-width="1.4"/>
<line x1="167.3" y1="507.3" x2="175.1" y2="507.3" stroke="#000" stroke-width="1.4"/>
<line x1="167.3" y1="550" x2="175.1" y2="550" stroke="#000" stroke-width="1.4"/>
<line x1="262" y1="518.5" x2="262" y2="543.5" stroke="#000" stroke-width="1.4"/>
<line x1="258.1" y1="518.5" x2="265.9" y2="518.5" stroke="#000" stroke-width="1.4"/>
<line x1="258.1" y1="543.5" x2="265.9" y2="543.5" stroke="#000" stroke-width="1.4"/>
<line x1="289.4" y1="513" x2="289.4" y2="554.8" stroke="#000" stroke-width="1.4"/>
<line x1="285.5" y1="513" x2="293.3" y2="513" stroke="#000" stroke-width="1.4"/>
<line x1="285.5" y1="554.8" x2="293.3" y2="554.8" stroke="#000" stroke-width="1.4"/>
<line x1="301.6" y1="523.2" x2="301.6" y2="552.8" stroke="#000" stroke-width="1.4"/>
<line x1="297.7" y1="523.2" x2="305.5" y2="523.2" stroke="#000" stroke-width="1.4"/>
<line x1="297.7" y1="552.8" x2="305.5" y2="552.8" stroke="#000" stroke-width="1.4"/>
<line x1="325.5" y1="531.2" x2="325.5" y2="568" stroke="#000" stroke-width="1.4"/>
<line x1="321.6" y1="531.2" x2="329.4" y2="531.2" stroke="#000" stroke-width="1.4"/>
<path d="M103.3 568L104.8 556.93L105.4 551.97L106 548.99L106.6 546.01L107.1 548L109.5 542L171.2 527.5L262 530.6L289.4 533.9L301.6 538L325.5 549.4" fill="none" stroke="#000" stroke-width="2.5" stroke-linejoin="round"/>
<rect x="102.25" y="554.38" width="5.1" height="5.1" fill="none" stroke="#000" stroke-width="2.6"/>
<rect x="102.85" y="549.42" width="5.1" height="5.1" fill="none" stroke="#000" stroke-width="2.6"/>
<rect x="103.45" y="546.44" width="5.1" height="5.1" fill="none" stroke="#000" stroke-width="2.6"/>
<rect x="104.05" y="543.47" width="5.1" height="5.1" fill="none" stroke="#000" stroke-width="2.6"/>
<rect x="104.55" y="545.45" width="5.1" height="5.1" fill="none" stroke="#000" stroke-width="2.6"/>
<rect x="106.95" y="539.45" width="5.1" height="5.1" fill="#fff" stroke="#000" stroke-width="2.6"/>
<rect x="168.65" y="524.95" width="5.1" height="5.1" fill="#fff" stroke="#000" stroke-width="2.6"/>
<rect x="259.45" y="528.05" width="5.1" height="5.1" fill="#fff" stroke="#000" stroke-width="2.6"/>
<rect x="286.85" y="531.35" width="5.1" height="5.1" fill="#fff" stroke="#000" stroke-width="2.6"/>
<rect x="299.05" y="535.45" width="5.1" height="5.1" fill="#fff" stroke="#000" stroke-width="2.6"/>
<rect x="322.95" y="546.85" width="5.1" height="5.1" fill="#fff" stroke="#000" stroke-width="2.6"/>
<line x1="105.4" y1="550.16" x2="105.4" y2="557.01" stroke="#000" stroke-width="1.4"/>
<line x1="101.5" y1="550.16" x2="109.3" y2="550.16" stroke="#000" stroke-width="1.4"/>
<line x1="101.5" y1="557.01" x2="109.3" y2="557.01" stroke="#000" stroke-width="1.4"/>
<line x1="106" y1="545.25" x2="106" y2="554" stroke="#000" stroke-width="1.4"/>
<line x1="102.1" y1="545.25" x2="109.9" y2="545.25" stroke="#000" stroke-width="1.4"/>
<line x1="102.1" y1="554" x2="109.9" y2="554" stroke="#000" stroke-width="1.4"/>
<line x1="106.6" y1="542.3" x2="106.6" y2="552.19" stroke="#000" stroke-width="1.4"/>
<line x1="102.7" y1="542.3" x2="110.5" y2="542.3" stroke="#000" stroke-width="1.4"/>
<line x1="102.7" y1="552.19" x2="110.5" y2="552.19" stroke="#000" stroke-width="1.4"/>
<line x1="108.6" y1="526" x2="108.6" y2="566" stroke="#000" stroke-width="1.4"/>
<line x1="104.7" y1="526" x2="112.5" y2="526" stroke="#000" stroke-width="1.4"/>
<line x1="104.7" y1="566" x2="112.5" y2="566" stroke="#000" stroke-width="1.4"/>
<line x1="106.9" y1="523" x2="106.9" y2="563" stroke="#000" stroke-width="1.4"/>
<line x1="103" y1="523" x2="110.8" y2="523" stroke="#000" stroke-width="1.4"/>
<line x1="103" y1="563" x2="110.8" y2="563" stroke="#000" stroke-width="1.4"/>
<line x1="171.2" y1="525" x2="171.2" y2="550" stroke="#000" stroke-width="1.4"/>
<line x1="167.3" y1="525" x2="175.1" y2="525" stroke="#000" stroke-width="1.4"/>
<line x1="167.3" y1="550" x2="175.1" y2="550" stroke="#000" stroke-width="1.4"/>
<line x1="262" y1="520.3" x2="262" y2="551.9" stroke="#000" stroke-width="1.4"/>
<line x1="258.1" y1="520.3" x2="265.9" y2="520.3" stroke="#000" stroke-width="1.4"/>
<line x1="258.1" y1="551.9" x2="265.9" y2="551.9" stroke="#000" stroke-width="1.4"/>
<line x1="289.4" y1="529.5" x2="289.4" y2="559.9" stroke="#000" stroke-width="1.4"/>
<line x1="285.5" y1="529.5" x2="293.3" y2="529.5" stroke="#000" stroke-width="1.4"/>
<line x1="285.5" y1="559.9" x2="293.3" y2="559.9" stroke="#000" stroke-width="1.4"/>
<line x1="301.6" y1="537.6" x2="301.6" y2="568" stroke="#000" stroke-width="1.4"/>
<line x1="297.7" y1="559.5" x2="305.5" y2="559.5" stroke="#000" stroke-width="1.4"/>
<path d="M103.3 568L104.8 558.34L105.4 553.59L106 549.62L106.6 547.25L107.1 552L109.5 547L171.2 537.5L262 536.5L289.4 544.7L301.6 552.8" fill="none" stroke="#000" stroke-width="2.5" stroke-linejoin="round" stroke-dasharray="12 4"/>
<path d="M104.8 553.74L109.3 562.34L100.3 562.34Z" fill="#000"/>
<path d="M105.4 548.99L109.9 557.59L100.9 557.59Z" fill="#000"/>
<path d="M106 545.02L110.5 553.62L101.5 553.62Z" fill="#000"/>
<path d="M106.6 542.64L111.1 551.25L102.1 551.25Z" fill="#000"/>
<path d="M107.1 547.4L111.6 556L102.6 556Z" fill="#000"/>
<path d="M109.5 542.4L114 551L105 551Z" fill="#000"/><path d="M109.5 547.04L110.49 548.93L108.51 548.93Z" fill="#fff"/>
<path d="M171.2 532.9L175.7 541.5L166.7 541.5Z" fill="#000"/><path d="M171.2 537.54L172.19 539.43L170.21 539.43Z" fill="#fff"/>
<path d="M262 531.9L266.5 540.5L257.5 540.5Z" fill="#000"/><path d="M262 536.54L262.99 538.43L261.01 538.43Z" fill="#fff"/>
<path d="M289.4 540.1L293.9 548.7L284.9 548.7Z" fill="#000"/><path d="M289.4 544.74L290.39 546.63L288.41 546.63Z" fill="#fff"/>
<path d="M301.6 548.2L306.1 556.8L297.1 556.8Z" fill="#000"/><path d="M301.6 552.84L302.59 554.73L300.61 554.73Z" fill="#fff"/>
<line x1="104.4" y1="547.07" x2="104.4" y2="555.12" stroke="#000" stroke-width="1.4"/>
<line x1="100.5" y1="547.07" x2="108.3" y2="547.07" stroke="#000" stroke-width="1.4"/>
<line x1="100.5" y1="555.12" x2="108.3" y2="555.12" stroke="#000" stroke-width="1.4"/>
<line x1="105" y1="524.91" x2="105" y2="541.53" stroke="#000" stroke-width="1.4"/>
<line x1="101.1" y1="524.91" x2="108.9" y2="524.91" stroke="#000" stroke-width="1.4"/>
<line x1="101.1" y1="541.53" x2="108.9" y2="541.53" stroke="#000" stroke-width="1.4"/>
<line x1="105.8" y1="506.91" x2="105.8" y2="530.5" stroke="#000" stroke-width="1.4"/>
<line x1="101.9" y1="506.91" x2="109.7" y2="506.91" stroke="#000" stroke-width="1.4"/>
<line x1="101.9" y1="530.5" x2="109.7" y2="530.5" stroke="#000" stroke-width="1.4"/>
<line x1="108.6" y1="456.2" x2="108.6" y2="527" stroke="#000" stroke-width="1.4"/>
<line x1="104.7" y1="456.2" x2="112.5" y2="456.2" stroke="#000" stroke-width="1.4"/>
<line x1="104.7" y1="527" x2="112.5" y2="527" stroke="#000" stroke-width="1.4"/>
<line x1="106.9" y1="501.9" x2="106.9" y2="540" stroke="#000" stroke-width="1.4"/>
<line x1="103" y1="501.9" x2="110.8" y2="501.9" stroke="#000" stroke-width="1.4"/>
<line x1="103" y1="540" x2="110.8" y2="540" stroke="#000" stroke-width="1.4"/>
<line x1="171.2" y1="464.5" x2="171.2" y2="518.1" stroke="#000" stroke-width="1.4"/>
<line x1="167.3" y1="464.5" x2="175.1" y2="464.5" stroke="#000" stroke-width="1.4"/>
<line x1="167.3" y1="518.1" x2="175.1" y2="518.1" stroke="#000" stroke-width="1.4"/>
<line x1="262" y1="503.8" x2="262" y2="522.9" stroke="#000" stroke-width="1.4"/>
<line x1="258.1" y1="503.8" x2="265.9" y2="503.8" stroke="#000" stroke-width="1.4"/>
<line x1="258.1" y1="522.9" x2="265.9" y2="522.9" stroke="#000" stroke-width="1.4"/>
<line x1="289.4" y1="502.4" x2="289.4" y2="517.8" stroke="#000" stroke-width="1.4"/>
<line x1="285.5" y1="502.4" x2="293.3" y2="502.4" stroke="#000" stroke-width="1.4"/>
<line x1="285.5" y1="517.8" x2="293.3" y2="517.8" stroke="#000" stroke-width="1.4"/>
<line x1="301.6" y1="502" x2="301.6" y2="517.8" stroke="#000" stroke-width="1.4"/>
<line x1="297.7" y1="502" x2="305.5" y2="502" stroke="#000" stroke-width="1.4"/>
<line x1="297.7" y1="517.8" x2="305.5" y2="517.8" stroke="#000" stroke-width="1.4"/>
<line x1="325.5" y1="519.2" x2="325.5" y2="531.2" stroke="#000" stroke-width="1.4"/>
<line x1="321.6" y1="519.2" x2="329.4" y2="519.2" stroke="#000" stroke-width="1.4"/>
<line x1="321.6" y1="531.2" x2="329.4" y2="531.2" stroke="#000" stroke-width="1.4"/>
<line x1="348.9" y1="509" x2="348.9" y2="559.9" stroke="#000" stroke-width="1.4"/>
<line x1="345" y1="509" x2="352.8" y2="509" stroke="#000" stroke-width="1.4"/>
<line x1="345" y1="559.9" x2="352.8" y2="559.9" stroke="#000" stroke-width="1.4"/>
<line x1="372.7" y1="517.9" x2="372.7" y2="564" stroke="#000" stroke-width="1.4"/>
<line x1="368.8" y1="517.9" x2="376.6" y2="517.9" stroke="#000" stroke-width="1.4"/>
<line x1="368.8" y1="559.9" x2="376.6" y2="559.9" stroke="#000" stroke-width="1.4"/>
<line x1="420.1" y1="522.8" x2="420.1" y2="565.4" stroke="#000" stroke-width="1.4"/>
<line x1="416.2" y1="522.8" x2="424" y2="522.8" stroke="#000" stroke-width="1.4"/>
<line x1="416.2" y1="565.4" x2="424" y2="565.4" stroke="#000" stroke-width="1.4"/>
<path d="M103.3 568L104.4 551.1L105 533.22L105.8 518.7L107.1 512L108.5 491.5L171.2 490.5L262 513.5L289.4 510.1L301.6 510.4L325.5 525.2L348.9 534.5L372.7 541L420.1 549" fill="none" stroke="#000" stroke-width="2.5" stroke-linejoin="round" stroke-dasharray="4.4 4.9"/>
<path d="M104.4 555.7L108.9 547.1L99.9 547.1Z" fill="#000"/>
<path d="M105 537.82L109.5 529.22L100.5 529.22Z" fill="#000"/>
<path d="M105.8 523.3L110.3 514.7L101.3 514.7Z" fill="#000"/>
<path d="M107.1 516.6L111.6 508L102.6 508Z" fill="#000"/>
<path d="M108.5 496.1L113 487.5L104 487.5Z" fill="#000"/><path d="M108.5 491.46L109.49 489.57L107.51 489.57Z" fill="#fff"/>
<path d="M171.2 495.1L175.7 486.5L166.7 486.5Z" fill="#000"/><path d="M171.2 490.46L172.19 488.57L170.21 488.57Z" fill="#fff"/>
<path d="M262 518.1L266.5 509.5L257.5 509.5Z" fill="#000"/><path d="M262 513.46L262.99 511.57L261.01 511.57Z" fill="#fff"/>
<path d="M289.4 514.7L293.9 506.1L284.9 506.1Z" fill="#000"/><path d="M289.4 510.06L290.39 508.17L288.41 508.17Z" fill="#fff"/>
<path d="M301.6 515L306.1 506.4L297.1 506.4Z" fill="#000"/><path d="M301.6 510.36L302.59 508.47L300.61 508.47Z" fill="#fff"/>
<path d="M325.5 529.8L330 521.2L321 521.2Z" fill="#000"/><path d="M325.5 525.16L326.49 523.27L324.51 523.27Z" fill="#fff"/>
<path d="M348.9 539.1L353.4 530.5L344.4 530.5Z" fill="#000"/><path d="M348.9 534.46L349.89 532.57L347.91 532.57Z" fill="#fff"/>
<path d="M372.7 545.6L377.2 537L368.2 537Z" fill="#000"/><path d="M372.7 540.96L373.69 539.07L371.71 539.07Z" fill="#fff"/>
<path d="M420.1 553.6L424.6 545L415.6 545Z" fill="#000"/><path d="M420.1 548.96L421.09 547.07L419.11 547.07Z" fill="#fff"/>
<line x1="104.4" y1="541.31" x2="104.4" y2="551.59" stroke="#000" stroke-width="1.4"/>
<line x1="100.5" y1="541.31" x2="108.3" y2="541.31" stroke="#000" stroke-width="1.4"/>
<line x1="100.5" y1="551.59" x2="108.3" y2="551.59" stroke="#000" stroke-width="1.4"/>
<line x1="105" y1="519.6" x2="105" y2="538.28" stroke="#000" stroke-width="1.4"/>
<line x1="101.1" y1="519.6" x2="108.9" y2="519.6" stroke="#000" stroke-width="1.4"/>
<line x1="101.1" y1="538.28" x2="108.9" y2="538.28" stroke="#000" stroke-width="1.4"/>
<line x1="105.8" y1="499.5" x2="105.8" y2="525.96" stroke="#000" stroke-width="1.4"/>
<line x1="101.9" y1="499.5" x2="109.7" y2="499.5" stroke="#000" stroke-width="1.4"/>
<line x1="101.9" y1="525.96" x2="109.7" y2="525.96" stroke="#000" stroke-width="1.4"/>
<line x1="108.6" y1="451.5" x2="108.6" y2="532" stroke="#000" stroke-width="1.4"/>
<line x1="104.7" y1="451.5" x2="112.5" y2="451.5" stroke="#000" stroke-width="1.4"/>
<line x1="104.7" y1="532" x2="112.5" y2="532" stroke="#000" stroke-width="1.4"/>
<line x1="107.8" y1="499.3" x2="107.8" y2="545" stroke="#000" stroke-width="1.4"/>
<line x1="103.9" y1="499.3" x2="111.7" y2="499.3" stroke="#000" stroke-width="1.4"/>
<line x1="103.9" y1="545" x2="111.7" y2="545" stroke="#000" stroke-width="1.4"/>
<line x1="171.2" y1="417.3" x2="171.2" y2="532.7" stroke="#000" stroke-width="1.4"/>
<line x1="167.3" y1="417.3" x2="175.1" y2="417.3" stroke="#000" stroke-width="1.4"/>
<line x1="167.3" y1="532.7" x2="175.1" y2="532.7" stroke="#000" stroke-width="1.4"/>
<line x1="262" y1="422.3" x2="262" y2="517.7" stroke="#000" stroke-width="1.4"/>
<line x1="258.1" y1="422.3" x2="265.9" y2="422.3" stroke="#000" stroke-width="1.4"/>
<line x1="258.1" y1="517.7" x2="265.9" y2="517.7" stroke="#000" stroke-width="1.4"/>
<line x1="289.4" y1="424.4" x2="289.4" y2="530.6" stroke="#000" stroke-width="1.4"/>
<line x1="285.5" y1="424.4" x2="293.3" y2="424.4" stroke="#000" stroke-width="1.4"/>
<line x1="285.5" y1="530.6" x2="293.3" y2="530.6" stroke="#000" stroke-width="1.4"/>
<line x1="301.6" y1="443.3" x2="301.6" y2="531.2" stroke="#000" stroke-width="1.4"/>
<line x1="297.7" y1="443.3" x2="305.5" y2="443.3" stroke="#000" stroke-width="1.4"/>
<line x1="297.7" y1="531.2" x2="305.5" y2="531.2" stroke="#000" stroke-width="1.4"/>
<line x1="325.5" y1="475.4" x2="325.5" y2="544" stroke="#000" stroke-width="1.4"/>
<line x1="321.6" y1="475.4" x2="329.4" y2="475.4" stroke="#000" stroke-width="1.4"/>
<line x1="321.6" y1="544" x2="329.4" y2="544" stroke="#000" stroke-width="1.4"/>
<line x1="348.9" y1="514.7" x2="348.9" y2="557.2" stroke="#000" stroke-width="1.4"/>
<line x1="345" y1="514.7" x2="352.8" y2="514.7" stroke="#000" stroke-width="1.4"/>
<line x1="345" y1="557.2" x2="352.8" y2="557.2" stroke="#000" stroke-width="1.4"/>
<line x1="372.7" y1="513.8" x2="372.7" y2="568" stroke="#000" stroke-width="1.4"/>
<line x1="368.8" y1="513.8" x2="376.6" y2="513.8" stroke="#000" stroke-width="1.4"/>
<line x1="420.1" y1="533.8" x2="420.1" y2="562" stroke="#000" stroke-width="1.4"/>
<line x1="416.2" y1="533.8" x2="424" y2="533.8" stroke="#000" stroke-width="1.4"/>
<path d="M103.3 568L104.4 546.45L105 528.94L105.8 512.73L107.1 503L109.7 491.9L171.2 475L262 470.2L289.4 477.5L301.6 488.8L325.5 509.7L348.9 534.3L372.7 539.8L420.1 548" fill="none" stroke="#000" stroke-width="2.5" stroke-linejoin="round" stroke-dasharray="11.2 4.6 4.8 4.6" stroke-dashoffset="2.2"/>
<path d="M104.4 542.05L109.2 546.45L104.4 550.85L99.6 546.45Z" fill="#000"/>
<path d="M105 524.54L109.8 528.94L105 533.34L100.2 528.94Z" fill="#000"/>
<path d="M105.8 508.33L110.6 512.73L105.8 517.13L101 512.73Z" fill="#000"/>
<path d="M107.1 498.6L111.9 503L107.1 507.4L102.3 503Z" fill="#000"/>
<path d="M109.7 487.5L114.5 491.9L109.7 496.3L104.9 491.9Z" fill="#000"/>
<path d="M171.2 470.6L176 475L171.2 479.4L166.4 475Z" fill="#000"/>
<path d="M262 465.8L266.8 470.2L262 474.6L257.2 470.2Z" fill="#000"/>
<path d="M289.4 473.1L294.2 477.5L289.4 481.9L284.6 477.5Z" fill="#000"/>
<path d="M301.6 484.4L306.4 488.8L301.6 493.2L296.8 488.8Z" fill="#000"/>
<path d="M325.5 505.3L330.3 509.7L325.5 514.1L320.7 509.7Z" fill="#000"/>
<path d="M348.9 529.9L353.7 534.3L348.9 538.7L344.1 534.3Z" fill="#000"/>
<path d="M372.7 535.4L377.5 539.8L372.7 544.2L367.9 539.8Z" fill="#000"/>
<path d="M420.1 543.6L424.9 548L420.1 552.4L415.3 548Z" fill="#000"/>
<line x1="104.4" y1="542.9" x2="104.4" y2="552.56" stroke="#000" stroke-width="1.4"/>
<line x1="100.5" y1="542.9" x2="108.3" y2="542.9" stroke="#000" stroke-width="1.4"/>
<line x1="100.5" y1="552.56" x2="108.3" y2="552.56" stroke="#000" stroke-width="1.4"/>
<line x1="105" y1="516.18" x2="105" y2="536.18" stroke="#000" stroke-width="1.4"/>
<line x1="101.1" y1="516.18" x2="108.9" y2="516.18" stroke="#000" stroke-width="1.4"/>
<line x1="101.1" y1="536.18" x2="108.9" y2="536.18" stroke="#000" stroke-width="1.4"/>
<line x1="105.8" y1="491.23" x2="105.8" y2="520.89" stroke="#000" stroke-width="1.4"/>
<line x1="101.9" y1="491.23" x2="109.7" y2="491.23" stroke="#000" stroke-width="1.4"/>
<line x1="101.9" y1="520.89" x2="109.7" y2="520.89" stroke="#000" stroke-width="1.4"/>
<line x1="108.6" y1="382.9" x2="108.6" y2="568" stroke="#000" stroke-width="1.4"/>
<line x1="104.7" y1="382.9" x2="112.5" y2="382.9" stroke="#000" stroke-width="1.4"/>
<line x1="171.2" y1="414.5" x2="171.2" y2="502.3" stroke="#000" stroke-width="1.4"/>
<line x1="167.3" y1="414.5" x2="175.1" y2="414.5" stroke="#000" stroke-width="1.4"/>
<line x1="167.3" y1="502.3" x2="175.1" y2="502.3" stroke="#000" stroke-width="1.4"/>
<line x1="262" y1="377.8" x2="262" y2="488.4" stroke="#000" stroke-width="1.4"/>
<line x1="258.1" y1="377.8" x2="265.9" y2="377.8" stroke="#000" stroke-width="1.4"/>
<line x1="258.1" y1="488.4" x2="265.9" y2="488.4" stroke="#000" stroke-width="1.4"/>
<line x1="289.4" y1="422.4" x2="289.4" y2="532.8" stroke="#000" stroke-width="1.4"/>
<line x1="285.5" y1="422.4" x2="293.3" y2="422.4" stroke="#000" stroke-width="1.4"/>
<line x1="285.5" y1="532.8" x2="293.3" y2="532.8" stroke="#000" stroke-width="1.4"/>
<line x1="301.6" y1="408.9" x2="301.6" y2="494.1" stroke="#000" stroke-width="1.4"/>
<line x1="297.7" y1="408.9" x2="305.5" y2="408.9" stroke="#000" stroke-width="1.4"/>
<line x1="297.7" y1="494.1" x2="305.5" y2="494.1" stroke="#000" stroke-width="1.4"/>
<line x1="325.5" y1="443" x2="325.5" y2="524" stroke="#000" stroke-width="1.4"/>
<line x1="321.6" y1="443" x2="329.4" y2="443" stroke="#000" stroke-width="1.4"/>
<line x1="321.6" y1="524" x2="329.4" y2="524" stroke="#000" stroke-width="1.4"/>
<line x1="348.9" y1="475.2" x2="348.9" y2="544" stroke="#000" stroke-width="1.4"/>
<line x1="345" y1="475.2" x2="352.8" y2="475.2" stroke="#000" stroke-width="1.4"/>
<line x1="345" y1="544" x2="352.8" y2="544" stroke="#000" stroke-width="1.4"/>
<line x1="372.7" y1="507.4" x2="372.7" y2="548.6" stroke="#000" stroke-width="1.4"/>
<line x1="368.8" y1="507.4" x2="376.6" y2="507.4" stroke="#000" stroke-width="1.4"/>
<line x1="368.8" y1="548.6" x2="376.6" y2="548.6" stroke="#000" stroke-width="1.4"/>
<line x1="420.1" y1="526" x2="420.1" y2="568" stroke="#000" stroke-width="1.4"/>
<line x1="416.2" y1="526" x2="424" y2="526" stroke="#000" stroke-width="1.4"/>
<path d="M103.3 568L104.4 547.73L105 526.18L105.8 506.06L107.1 496L108.4 477.2L171.2 459.3L262 432.8L289.4 477.6L301.6 451.6L325.5 483.5L348.9 509.8L372.7 528.3L420.1 547" fill="none" stroke="#000" stroke-width="2.5" stroke-linejoin="round" stroke-dasharray="11.2 4.6 4.8 4.6"/>
<circle cx="104.4" cy="547.73" r="2.75" fill="none" stroke="#000" stroke-width="2.6"/>
<circle cx="105" cy="526.18" r="2.75" fill="none" stroke="#000" stroke-width="2.6"/>
<circle cx="105.8" cy="506.06" r="2.75" fill="none" stroke="#000" stroke-width="2.6"/>
<circle cx="107.1" cy="496" r="2.75" fill="none" stroke="#000" stroke-width="2.6"/>
<circle cx="108.4" cy="477.2" r="2.75" fill="#fff" stroke="#000" stroke-width="2.6"/>
<circle cx="171.2" cy="459.3" r="2.75" fill="#fff" stroke="#000" stroke-width="2.6"/>
<circle cx="262" cy="432.8" r="2.75" fill="#fff" stroke="#000" stroke-width="2.6"/>
<circle cx="289.4" cy="477.6" r="2.75" fill="#fff" stroke="#000" stroke-width="2.6"/>
<circle cx="301.6" cy="451.6" r="2.75" fill="#fff" stroke="#000" stroke-width="2.6"/>
<circle cx="325.5" cy="483.5" r="2.75" fill="#fff" stroke="#000" stroke-width="2.6"/>
<circle cx="348.9" cy="509.8" r="2.75" fill="#fff" stroke="#000" stroke-width="2.6"/>
<circle cx="372.7" cy="528.3" r="2.75" fill="#fff" stroke="#000" stroke-width="2.6"/>
</g>
<line x1="103.3" y1="354.85" x2="103.3" y2="568.85" stroke="#000" stroke-width="2.1"/>
<line x1="96.2" y1="567.85" x2="103.3" y2="567.85" stroke="#000" stroke-width="2"/>
<text x="90.5" y="572.85" font-size="14" font-weight="bold" text-anchor="end" stroke="#000" stroke-width="0.4">0.0</text>
<line x1="96.2" y1="541.35" x2="103.3" y2="541.35" stroke="#000" stroke-width="2"/>
<text x="90.5" y="546.35" font-size="14" font-weight="bold" text-anchor="end" stroke="#000" stroke-width="0.4">0.1</text>
<line x1="96.2" y1="514.85" x2="103.3" y2="514.85" stroke="#000" stroke-width="2"/>
<text x="90.5" y="519.85" font-size="14" font-weight="bold" text-anchor="end" stroke="#000" stroke-width="0.4">0.2</text>
<line x1="96.2" y1="488.35" x2="103.3" y2="488.35" stroke="#000" stroke-width="2"/>
<text x="90.5" y="493.35" font-size="14" font-weight="bold" text-anchor="end" stroke="#000" stroke-width="0.4">0.3</text>
<line x1="96.2" y1="461.85" x2="103.3" y2="461.85" stroke="#000" stroke-width="2"/>
<text x="90.5" y="466.85" font-size="14" font-weight="bold" text-anchor="end" stroke="#000" stroke-width="0.4">0.4</text>
<line x1="96.2" y1="435.35" x2="103.3" y2="435.35" stroke="#000" stroke-width="2"/>
<text x="90.5" y="440.35" font-size="14" font-weight="bold" text-anchor="end" stroke="#000" stroke-width="0.4">0.5</text>
<line x1="96.2" y1="408.85" x2="103.3" y2="408.85" stroke="#000" stroke-width="2"/>
<text x="90.5" y="413.85" font-size="14" font-weight="bold" text-anchor="end" stroke="#000" stroke-width="0.4">0.6</text>
<line x1="96.2" y1="382.35" x2="103.3" y2="382.35" stroke="#000" stroke-width="2"/>
<text x="90.5" y="387.35" font-size="14" font-weight="bold" text-anchor="end" stroke="#000" stroke-width="0.4">0.7</text>
<line x1="96.2" y1="355.85" x2="103.3" y2="355.85" stroke="#000" stroke-width="2"/>
<text x="90.5" y="360.85" font-size="14" font-weight="bold" text-anchor="end" stroke="#000" stroke-width="0.4">0.8</text>
<line x1="96.2" y1="567.85" x2="262.9" y2="567.85" stroke="#000" stroke-width="2"/>
<line x1="103.3" y1="567.85" x2="103.3" y2="574.85" stroke="#000" stroke-width="2"/>
<line x1="125.97" y1="567.85" x2="125.97" y2="572.65" stroke="#000" stroke-width="1.9"/>
<line x1="148.64" y1="567.85" x2="148.64" y2="572.65" stroke="#000" stroke-width="1.9"/>
<line x1="171.31" y1="567.85" x2="171.31" y2="572.65" stroke="#000" stroke-width="1.9"/>
<line x1="193.99" y1="567.85" x2="193.99" y2="572.65" stroke="#000" stroke-width="1.9"/>
<line x1="216.66" y1="567.85" x2="216.66" y2="572.65" stroke="#000" stroke-width="1.9"/>
<line x1="239.33" y1="567.85" x2="239.33" y2="574.85" stroke="#000" stroke-width="2"/>
<line x1="262" y1="563.55" x2="262" y2="573.05" stroke="#000" stroke-width="2"/>
<line x1="276.6" y1="567.85" x2="421.1" y2="567.85" stroke="#000" stroke-width="2"/>
<line x1="277.6" y1="563.65" x2="277.6" y2="574.85" stroke="#000" stroke-width="2"/>
<line x1="348.85" y1="567.85" x2="348.85" y2="572.65" stroke="#000" stroke-width="1.9"/>
<line x1="420.1" y1="560.85" x2="420.1" y2="574.85" stroke="#000" stroke-width="2"/>
<text x="102.9" y="591.3" font-size="14" font-weight="bold" text-anchor="middle" stroke="#000" stroke-width="0.4">0</text>
<text x="238.7" y="591.3" font-size="14" font-weight="bold" text-anchor="middle" stroke="#000" stroke-width="0.4">144</text>
<text x="276.8" y="591.3" font-size="14" font-weight="bold" text-anchor="middle" stroke="#000" stroke-width="0.4">168</text>
<text x="420.2" y="591.3" font-size="14" font-weight="bold" text-anchor="middle" stroke="#000" stroke-width="0.4">174</text>
<text x="260.8" y="615.9" font-size="16.7" font-weight="bold" text-anchor="middle" stroke="#000" stroke-width="0.4">Time (h)</text>
<line x1="430" y1="370.5" x2="461.2" y2="370.5" stroke="#000" stroke-width="2.5"/>
<rect x="442.85" y="367.95" width="5.1" height="5.1" fill="#fff" stroke="#000" stroke-width="2.6"/>
<text x="466" y="375.9" font-size="14" font-weight="normal" text-anchor="start" stroke="#000" stroke-width="0.45">100</text>
<line x1="430" y1="395.1" x2="442" y2="395.1" stroke="#000" stroke-width="2.5"/>
<line x1="446" y1="395.1" x2="456.8" y2="395.1" stroke="#000" stroke-width="2.5"/>
<path d="M445.4 389.9L449.9 398.5L440.9 398.5Z" fill="#000"/><path d="M445.4 394.54L446.39 396.43L444.41 396.43Z" fill="#fff"/>
<text x="466" y="400.5" font-size="14" font-weight="normal" text-anchor="start" stroke="#000" stroke-width="0.45">125</text>
<line x1="430" y1="419.6" x2="434.2" y2="419.6" stroke="#000" stroke-width="2.5"/>
<line x1="439.2" y1="419.6" x2="443.5" y2="419.6" stroke="#000" stroke-width="2.5"/>
<line x1="448" y1="419.6" x2="452.6" y2="419.6" stroke="#000" stroke-width="2.5"/>
<line x1="457.4" y1="419.6" x2="461.2" y2="419.6" stroke="#000" stroke-width="2.5"/>
<path d="M445.4 424.8L449.9 416.2L440.9 416.2Z" fill="#000"/><path d="M445.4 420.16L446.39 418.27L444.41 418.27Z" fill="#fff"/>
<text x="466" y="425" font-size="14" font-weight="normal" text-anchor="start" stroke="#000" stroke-width="0.45">160</text>
<line x1="429.8" y1="443.6" x2="434.1" y2="443.6" stroke="#000" stroke-width="2.5"/>
<line x1="438.9" y1="443.6" x2="450" y2="443.6" stroke="#000" stroke-width="2.5"/>
<line x1="454.3" y1="443.6" x2="459.8" y2="443.6" stroke="#000" stroke-width="2.5"/>
<path d="M445.4 439.2L450.2 443.6L445.4 448L440.6 443.6Z" fill="#000"/>
<text x="466" y="449" font-size="14" font-weight="normal" text-anchor="start" stroke="#000" stroke-width="0.45">200</text>
<line x1="429.8" y1="468.1" x2="434.1" y2="468.1" stroke="#000" stroke-width="2.5"/>
<line x1="438.9" y1="468.1" x2="459.7" y2="468.1" stroke="#000" stroke-width="2.5"/>
<circle cx="445.4" cy="468.1" r="2.75" fill="#fff" stroke="#000" stroke-width="2.6"/>
<text x="466" y="473.5" font-size="14" font-weight="normal" text-anchor="start" stroke="#000" stroke-width="0.45">250</text>
</g>
<g id="panel-C">
<text x="29.3" y="660.8" font-size="21.2" font-weight="bold" text-anchor="start" stroke="#000" stroke-width="0.4">C</text>
<text transform="translate(55 773.3) rotate(-90)" font-size="17" font-weight="bold" text-anchor="middle" stroke="#000" stroke-width="0.45">N-2 µg/ml</text>
<g clip-path="url(#clip2)">
<line x1="105.6" y1="873.97" x2="105.6" y2="875.33" stroke="#000" stroke-width="1.4"/>
<line x1="101.7" y1="873.97" x2="109.5" y2="873.97" stroke="#000" stroke-width="1.4"/>
<line x1="101.7" y1="875.33" x2="109.5" y2="875.33" stroke="#000" stroke-width="1.4"/>
<line x1="106.6" y1="870.43" x2="106.6" y2="873.17" stroke="#000" stroke-width="1.4"/>
<line x1="102.7" y1="870.43" x2="110.5" y2="870.43" stroke="#000" stroke-width="1.4"/>
<line x1="102.7" y1="873.17" x2="110.5" y2="873.17" stroke="#000" stroke-width="1.4"/>
<line x1="107.6" y1="868.08" x2="107.6" y2="871.72" stroke="#000" stroke-width="1.4"/>
<line x1="103.7" y1="868.08" x2="111.5" y2="868.08" stroke="#000" stroke-width="1.4"/>
<line x1="103.7" y1="871.72" x2="111.5" y2="871.72" stroke="#000" stroke-width="1.4"/>
<line x1="109.3" y1="853" x2="109.3" y2="872" stroke="#000" stroke-width="1.4"/>
<line x1="105.4" y1="853" x2="113.2" y2="853" stroke="#000" stroke-width="1.4"/>
<line x1="105.4" y1="872" x2="113.2" y2="872" stroke="#000" stroke-width="1.4"/>
<line x1="171" y1="733.5" x2="171" y2="851.8" stroke="#000" stroke-width="1.4"/>
<line x1="167.1" y1="733.5" x2="174.9" y2="733.5" stroke="#000" stroke-width="1.4"/>
<line x1="167.1" y1="851.8" x2="174.9" y2="851.8" stroke="#000" stroke-width="1.4"/>
<line x1="262" y1="801.5" x2="262" y2="835" stroke="#000" stroke-width="1.4"/>
<line x1="258.1" y1="801.5" x2="265.9" y2="801.5" stroke="#000" stroke-width="1.4"/>
<line x1="258.1" y1="835" x2="265.9" y2="835" stroke="#000" stroke-width="1.4"/>
<line x1="301.6" y1="810.9" x2="301.6" y2="826.6" stroke="#000" stroke-width="1.4"/>
<line x1="297.7" y1="810.9" x2="305.5" y2="810.9" stroke="#000" stroke-width="1.4"/>
<line x1="297.7" y1="826.6" x2="305.5" y2="826.6" stroke="#000" stroke-width="1.4"/>
<line x1="325.5" y1="810.5" x2="325.5" y2="843.5" stroke="#000" stroke-width="1.4"/>
<line x1="321.6" y1="810.5" x2="329.4" y2="810.5" stroke="#000" stroke-width="1.4"/>
<line x1="321.6" y1="843.5" x2="329.4" y2="843.5" stroke="#000" stroke-width="1.4"/>
<path d="M103.3 877L105.6 874.65L106.6 871.8L107.6 869.9L107.1 868L109.5 862.7L171 791.6L262 817.1L289.4 809.3L301.6 818L325.5 827" fill="none" stroke="#000" stroke-width="2.5" stroke-linejoin="round" stroke-dasharray="4.4 4.9"/>
<path d="M105.6 879.25L110.1 870.65L101.1 870.65Z" fill="#000"/>
<path d="M106.6 876.4L111.1 867.8L102.1 867.8Z" fill="#000"/>
<path d="M107.6 874.5L112.1 865.9L103.1 865.9Z" fill="#000"/>
<path d="M107.1 872.6L111.6 864L102.6 864Z" fill="#000"/>
<path d="M109.5 867.3L114 858.7L105 858.7Z" fill="#000"/><path d="M109.5 862.66L110.49 860.77L108.51 860.77Z" fill="#fff"/>
<path d="M171 796.2L175.5 787.6L166.5 787.6Z" fill="#000"/><path d="M171 791.56L171.99 789.67L170.01 789.67Z" fill="#fff"/>
<path d="M262 821.7L266.5 813.1L257.5 813.1Z" fill="#000"/><path d="M262 817.06L262.99 815.17L261.01 815.17Z" fill="#fff"/>
<path d="M289.4 813.9L293.9 805.3L284.9 805.3Z" fill="#000"/><path d="M289.4 809.26L290.39 807.37L288.41 807.37Z" fill="#fff"/>
<path d="M301.6 822.6L306.1 814L297.1 814Z" fill="#000"/><path d="M301.6 817.96L302.59 816.07L300.61 816.07Z" fill="#fff"/>
<path d="M325.5 831.6L330 823L321 823Z" fill="#000"/><path d="M325.5 826.96L326.49 825.07L324.51 825.07Z" fill="#fff"/>
<line x1="105" y1="864.96" x2="105" y2="869.82" stroke="#000" stroke-width="1.4"/>
<line x1="101.1" y1="864.96" x2="108.9" y2="864.96" stroke="#000" stroke-width="1.4"/>
<line x1="101.1" y1="869.82" x2="108.9" y2="869.82" stroke="#000" stroke-width="1.4"/>
<line x1="105.6" y1="852.43" x2="105.6" y2="862.13" stroke="#000" stroke-width="1.4"/>
<line x1="101.7" y1="852.43" x2="109.5" y2="852.43" stroke="#000" stroke-width="1.4"/>
<line x1="101.7" y1="862.13" x2="109.5" y2="862.13" stroke="#000" stroke-width="1.4"/>
<line x1="106.2" y1="841.98" x2="106.2" y2="855.73" stroke="#000" stroke-width="1.4"/>
<line x1="102.3" y1="841.98" x2="110.1" y2="841.98" stroke="#000" stroke-width="1.4"/>
<line x1="102.3" y1="855.73" x2="110.1" y2="855.73" stroke="#000" stroke-width="1.4"/>
<line x1="108.7" y1="784.2" x2="108.7" y2="850" stroke="#000" stroke-width="1.4"/>
<line x1="104.8" y1="784.2" x2="112.6" y2="784.2" stroke="#000" stroke-width="1.4"/>
<line x1="104.8" y1="850" x2="112.6" y2="850" stroke="#000" stroke-width="1.4"/>
<line x1="171" y1="767.6" x2="171" y2="801.4" stroke="#000" stroke-width="1.4"/>
<line x1="167.1" y1="767.6" x2="174.9" y2="767.6" stroke="#000" stroke-width="1.4"/>
<line x1="167.1" y1="801.4" x2="174.9" y2="801.4" stroke="#000" stroke-width="1.4"/>
<line x1="262" y1="733.7" x2="262" y2="851.6" stroke="#000" stroke-width="1.4"/>
<line x1="258.1" y1="733.7" x2="265.9" y2="733.7" stroke="#000" stroke-width="1.4"/>
<line x1="258.1" y1="851.6" x2="265.9" y2="851.6" stroke="#000" stroke-width="1.4"/>
<line x1="289.4" y1="733.1" x2="289.4" y2="868.9" stroke="#000" stroke-width="1.4"/>
<line x1="285.5" y1="733.1" x2="293.3" y2="733.1" stroke="#000" stroke-width="1.4"/>
<line x1="285.5" y1="868.9" x2="293.3" y2="868.9" stroke="#000" stroke-width="1.4"/>
<line x1="301.6" y1="742.3" x2="301.6" y2="860.8" stroke="#000" stroke-width="1.4"/>
<line x1="297.7" y1="742.3" x2="305.5" y2="742.3" stroke="#000" stroke-width="1.4"/>
<line x1="297.7" y1="860.8" x2="305.5" y2="860.8" stroke="#000" stroke-width="1.4"/>
<line x1="325.5" y1="767.3" x2="325.5" y2="868.9" stroke="#000" stroke-width="1.4"/>
<line x1="321.6" y1="767.3" x2="329.4" y2="767.3" stroke="#000" stroke-width="1.4"/>
<line x1="321.6" y1="868.9" x2="329.4" y2="868.9" stroke="#000" stroke-width="1.4"/>
<path d="M103.3 877L105 867.39L105.6 857.28L106.2 848.86L108.5 843.8L109 817L171 784.5L262 792.6L289.4 801.2L301.6 801.7L325.5 817.9" fill="none" stroke="#000" stroke-width="2.5" stroke-linejoin="round" stroke-dasharray="11.2 4.6 4.8 4.6" stroke-dashoffset="2.2"/>
<path d="M105 862.99L109.8 867.39L105 871.79L100.2 867.39Z" fill="#000"/>
<path d="M105.6 852.88L110.4 857.28L105.6 861.68L100.8 857.28Z" fill="#000"/>
<path d="M106.2 844.46L111 848.86L106.2 853.25L101.4 848.86Z" fill="#000"/>
<path d="M108.5 839.4L113.3 843.8L108.5 848.2L103.7 843.8Z" fill="#000"/>
<path d="M109 812.6L113.8 817L109 821.4L104.2 817Z" fill="#000"/>
<path d="M171 780.1L175.8 784.5L171 788.9L166.2 784.5Z" fill="#000"/>
<path d="M262 788.2L266.8 792.6L262 797L257.2 792.6Z" fill="#000"/>
<path d="M289.4 796.8L294.2 801.2L289.4 805.6L284.6 801.2Z" fill="#000"/>
<path d="M301.6 797.3L306.4 801.7L301.6 806.1L296.8 801.7Z" fill="#000"/>
<path d="M325.5 813.5L330.3 817.9L325.5 822.3L320.7 817.9Z" fill="#000"/>
<line x1="105" y1="852.28" x2="105" y2="862.04" stroke="#000" stroke-width="1.4"/>
<line x1="101.1" y1="852.28" x2="108.9" y2="852.28" stroke="#000" stroke-width="1.4"/>
<line x1="101.1" y1="862.04" x2="108.9" y2="862.04" stroke="#000" stroke-width="1.4"/>
<line x1="105.6" y1="827.06" x2="105.6" y2="846.58" stroke="#000" stroke-width="1.4"/>
<line x1="101.7" y1="827.06" x2="109.5" y2="827.06" stroke="#000" stroke-width="1.4"/>
<line x1="101.7" y1="846.58" x2="109.5" y2="846.58" stroke="#000" stroke-width="1.4"/>
<line x1="106.2" y1="806.04" x2="106.2" y2="833.7" stroke="#000" stroke-width="1.4"/>
<line x1="102.3" y1="806.04" x2="110.1" y2="806.04" stroke="#000" stroke-width="1.4"/>
<line x1="102.3" y1="833.7" x2="110.1" y2="833.7" stroke="#000" stroke-width="1.4"/>
<line x1="108.7" y1="775.7" x2="108.7" y2="824" stroke="#000" stroke-width="1.4"/>
<line x1="104.8" y1="775.7" x2="112.6" y2="775.7" stroke="#000" stroke-width="1.4"/>
<line x1="104.8" y1="824" x2="112.6" y2="824" stroke="#000" stroke-width="1.4"/>
<line x1="171" y1="716.4" x2="171" y2="817.8" stroke="#000" stroke-width="1.4"/>
<line x1="167.1" y1="716.4" x2="174.9" y2="716.4" stroke="#000" stroke-width="1.4"/>
<line x1="167.1" y1="817.8" x2="174.9" y2="817.8" stroke="#000" stroke-width="1.4"/>
<line x1="262" y1="707.9" x2="262" y2="793.3" stroke="#000" stroke-width="1.4"/>
<line x1="258.1" y1="707.9" x2="265.9" y2="707.9" stroke="#000" stroke-width="1.4"/>
<line x1="258.1" y1="793.3" x2="265.9" y2="793.3" stroke="#000" stroke-width="1.4"/>
<line x1="289.4" y1="734.6" x2="289.4" y2="818" stroke="#000" stroke-width="1.4"/>
<line x1="285.5" y1="734.6" x2="293.3" y2="734.6" stroke="#000" stroke-width="1.4"/>
<line x1="285.5" y1="818" x2="293.3" y2="818" stroke="#000" stroke-width="1.4"/>
<line x1="301.6" y1="725" x2="301.6" y2="792.7" stroke="#000" stroke-width="1.4"/>
<line x1="297.7" y1="725" x2="305.5" y2="725" stroke="#000" stroke-width="1.4"/>
<line x1="297.7" y1="792.7" x2="305.5" y2="792.7" stroke="#000" stroke-width="1.4"/>
<line x1="325.5" y1="742.3" x2="325.5" y2="809.8" stroke="#000" stroke-width="1.4"/>
<line x1="321.6" y1="742.3" x2="329.4" y2="742.3" stroke="#000" stroke-width="1.4"/>
<line x1="321.6" y1="809.8" x2="329.4" y2="809.8" stroke="#000" stroke-width="1.4"/>
<line x1="349.2" y1="775.8" x2="349.2" y2="860.8" stroke="#000" stroke-width="1.4"/>
<line x1="345.3" y1="775.8" x2="353.1" y2="775.8" stroke="#000" stroke-width="1.4"/>
<line x1="345.3" y1="860.8" x2="353.1" y2="860.8" stroke="#000" stroke-width="1.4"/>
<line x1="373.2" y1="792.4" x2="373.2" y2="860.8" stroke="#000" stroke-width="1.4"/>
<line x1="369.3" y1="792.4" x2="377.1" y2="792.4" stroke="#000" stroke-width="1.4"/>
<line x1="369.3" y1="860.8" x2="377.1" y2="860.8" stroke="#000" stroke-width="1.4"/>
<path d="M103.3 877L105 857.16L105.6 836.82L106.2 819.87L107 809.7L108.7 799.9L171 767.3L262 750.6L289.4 776.3L301.6 758.5L325.5 776.3L349.2 818L373.2 827" fill="none" stroke="#000" stroke-width="2.5" stroke-linejoin="round" stroke-dasharray="11.2 4.6 4.8 4.6"/>
<circle cx="105" cy="857.16" r="2.75" fill="none" stroke="#000" stroke-width="2.6"/>
<circle cx="105.6" cy="836.82" r="2.75" fill="none" stroke="#000" stroke-width="2.6"/>
<circle cx="106.2" cy="819.87" r="2.75" fill="none" stroke="#000" stroke-width="2.6"/>
<circle cx="107" cy="809.7" r="2.75" fill="none" stroke="#000" stroke-width="2.6"/>
<circle cx="108.7" cy="799.9" r="2.75" fill="#fff" stroke="#000" stroke-width="2.6"/>
<circle cx="171" cy="767.3" r="2.75" fill="#fff" stroke="#000" stroke-width="2.6"/>
<circle cx="262" cy="750.6" r="2.75" fill="#fff" stroke="#000" stroke-width="2.6"/>
<circle cx="289.4" cy="776.3" r="2.75" fill="#fff" stroke="#000" stroke-width="2.6"/>
<circle cx="301.6" cy="758.5" r="2.75" fill="#fff" stroke="#000" stroke-width="2.6"/>
<circle cx="325.5" cy="776.3" r="2.75" fill="#fff" stroke="#000" stroke-width="2.6"/>
<circle cx="349.2" cy="818" r="2.75" fill="#fff" stroke="#000" stroke-width="2.6"/>
<circle cx="373.2" cy="827" r="2.75" fill="#fff" stroke="#000" stroke-width="2.6"/>
</g>
<line x1="103.3" y1="664.5" x2="103.3" y2="878.5" stroke="#000" stroke-width="2.1"/>
<line x1="96.2" y1="877.5" x2="103.3" y2="877.5" stroke="#000" stroke-width="2"/>
<text x="90.5" y="882.5" font-size="14" font-weight="bold" text-anchor="end" stroke="#000" stroke-width="0.4">0.00</text>
<line x1="96.2" y1="835.1" x2="103.3" y2="835.1" stroke="#000" stroke-width="2"/>
<text x="90.5" y="840.1" font-size="14" font-weight="bold" text-anchor="end" stroke="#000" stroke-width="0.4">0.05</text>
<line x1="96.2" y1="792.7" x2="103.3" y2="792.7" stroke="#000" stroke-width="2"/>
<text x="90.5" y="797.7" font-size="14" font-weight="bold" text-anchor="end" stroke="#000" stroke-width="0.4">0.10</text>
<line x1="96.2" y1="750.3" x2="103.3" y2="750.3" stroke="#000" stroke-width="2"/>
<text x="90.5" y="755.3" font-size="14" font-weight="bold" text-anchor="end" stroke="#000" stroke-width="0.4">0.15</text>
<line x1="96.2" y1="707.9" x2="103.3" y2="707.9" stroke="#000" stroke-width="2"/>
<text x="90.5" y="712.9" font-size="14" font-weight="bold" text-anchor="end" stroke="#000" stroke-width="0.4">0.20</text>
<line x1="96.2" y1="665.5" x2="103.3" y2="665.5" stroke="#000" stroke-width="2"/>
<text x="90.5" y="670.5" font-size="14" font-weight="bold" text-anchor="end" stroke="#000" stroke-width="0.4">0.25</text>
<line x1="96.2" y1="877.5" x2="262.9" y2="877.5" stroke="#000" stroke-width="2"/>
<line x1="103.3" y1="877.5" x2="103.3" y2="884.5" stroke="#000" stroke-width="2"/>
<line x1="125.97" y1="877.5" x2="125.97" y2="882.3" stroke="#000" stroke-width="1.9"/>
<line x1="148.64" y1="877.5" x2="148.64" y2="882.3" stroke="#000" stroke-width="1.9"/>
<line x1="171.31" y1="877.5" x2="171.31" y2="882.3" stroke="#000" stroke-width="1.9"/>
<line x1="193.99" y1="877.5" x2="193.99" y2="882.3" stroke="#000" stroke-width="1.9"/>
<line x1="216.66" y1="877.5" x2="216.66" y2="882.3" stroke="#000" stroke-width="1.9"/>
<line x1="239.33" y1="877.5" x2="239.33" y2="884.5" stroke="#000" stroke-width="2"/>
<line x1="262" y1="873.2" x2="262" y2="882.7" stroke="#000" stroke-width="2"/>
<line x1="276.6" y1="877.5" x2="421.1" y2="877.5" stroke="#000" stroke-width="2"/>
<line x1="277.6" y1="873.3" x2="277.6" y2="884.5" stroke="#000" stroke-width="2"/>
<line x1="348.85" y1="877.5" x2="348.85" y2="882.3" stroke="#000" stroke-width="1.9"/>
<line x1="420.1" y1="870.5" x2="420.1" y2="884.5" stroke="#000" stroke-width="2"/>
<text x="102.9" y="900.7" font-size="14" font-weight="bold" text-anchor="middle" stroke="#000" stroke-width="0.4">0</text>
<text x="238.7" y="900.7" font-size="14" font-weight="bold" text-anchor="middle" stroke="#000" stroke-width="0.4">144</text>
<text x="276.8" y="900.7" font-size="14" font-weight="bold" text-anchor="middle" stroke="#000" stroke-width="0.4">168</text>
<text x="420.2" y="900.7" font-size="14" font-weight="bold" text-anchor="middle" stroke="#000" stroke-width="0.4">174</text>
<text x="260.8" y="925.3" font-size="16.7" font-weight="bold" text-anchor="middle" stroke="#000" stroke-width="0.4">Time (h)</text>
<line x1="430" y1="680.1" x2="461.2" y2="680.1" stroke="#000" stroke-width="2.5"/>
<rect x="442.85" y="677.55" width="5.1" height="5.1" fill="#fff" stroke="#000" stroke-width="2.6"/>
<text x="466" y="685.5" font-size="14" font-weight="normal" text-anchor="start" stroke="#000" stroke-width="0.45">100</text>
<line x1="430" y1="704.7" x2="442" y2="704.7" stroke="#000" stroke-width="2.5"/>
<line x1="446" y1="704.7" x2="456.8" y2="704.7" stroke="#000" stroke-width="2.5"/>
<path d="M445.4 699.5L449.9 708.1L440.9 708.1Z" fill="#000"/><path d="M445.4 704.14L446.39 706.03L444.41 706.03Z" fill="#fff"/>
<text x="466" y="710.1" font-size="14" font-weight="normal" text-anchor="start" stroke="#000" stroke-width="0.45">125</text>
<line x1="430" y1="729.2" x2="434.2" y2="729.2" stroke="#000" stroke-width="2.5"/>
<line x1="439.2" y1="729.2" x2="443.5" y2="729.2" stroke="#000" stroke-width="2.5"/>
<line x1="448" y1="729.2" x2="452.6" y2="729.2" stroke="#000" stroke-width="2.5"/>
<line x1="457.4" y1="729.2" x2="461.2" y2="729.2" stroke="#000" stroke-width="2.5"/>
<path d="M445.4 734.4L449.9 725.8L440.9 725.8Z" fill="#000"/><path d="M445.4 729.76L446.39 727.87L444.41 727.87Z" fill="#fff"/>
<text x="466" y="734.6" font-size="14" font-weight="normal" text-anchor="start" stroke="#000" stroke-width="0.45">160</text>
<line x1="429.8" y1="753.2" x2="434.1" y2="753.2" stroke="#000" stroke-width="2.5"/>
<line x1="438.9" y1="753.2" x2="450" y2="753.2" stroke="#000" stroke-width="2.5"/>
<line x1="454.3" y1="753.2" x2="459.8" y2="753.2" stroke="#000" stroke-width="2.5"/>
<path d="M445.4 748.8L450.2 753.2L445.4 757.6L440.6 753.2Z" fill="#000"/>
<text x="466" y="758.6" font-size="14" font-weight="normal" text-anchor="start" stroke="#000" stroke-width="0.45">200</text>
<line x1="429.8" y1="777.7" x2="434.1" y2="777.7" stroke="#000" stroke-width="2.5"/>
<line x1="438.9" y1="777.7" x2="459.7" y2="777.7" stroke="#000" stroke-width="2.5"/>
<circle cx="445.4" cy="777.7" r="2.75" fill="#fff" stroke="#000" stroke-width="2.6"/>
<text x="466" y="783.1" font-size="14" font-weight="normal" text-anchor="start" stroke="#000" stroke-width="0.45">250</text>
</g>
<path d="M0 0H520V955H0Z M1.2 1.2V953H518V1.2Z" fill="#000" fill-rule="evenodd"/>
</svg></body></html>
